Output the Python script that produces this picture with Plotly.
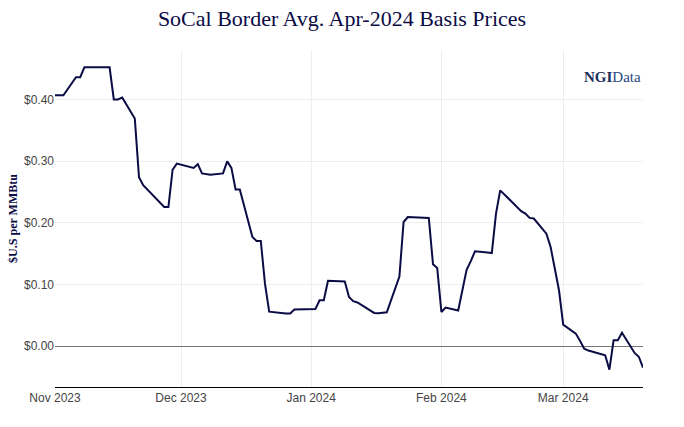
import plotly.graph_objects as go

# SoCal Border basis, trading days only
dates = [
    "2023-11-01", "2023-11-02", "2023-11-03", "2023-11-06", "2023-11-07",
    "2023-11-08", "2023-11-09", "2023-11-10", "2023-11-13", "2023-11-14",
    "2023-11-15", "2023-11-16", "2023-11-17", "2023-11-20", "2023-11-21",
    "2023-11-22", "2023-11-27", "2023-11-28", "2023-11-29", "2023-11-30",
    "2023-12-04", "2023-12-05", "2023-12-06", "2023-12-07", "2023-12-08",
    "2023-12-11", "2023-12-12", "2023-12-13", "2023-12-14", "2023-12-15",
    "2023-12-18", "2023-12-19", "2023-12-20", "2023-12-21", "2023-12-22",
    "2023-12-26", "2023-12-27", "2023-12-28", "2024-01-02", "2024-01-03",
    "2024-01-04", "2024-01-05", "2024-01-08", "2024-01-09", "2024-01-10",
    "2024-01-11", "2024-01-12", "2024-01-16", "2024-01-17", "2024-01-18",
    "2024-01-19", "2024-01-22", "2024-01-23", "2024-01-24", "2024-01-25",
    "2024-01-26", "2024-01-29", "2024-01-30", "2024-01-31", "2024-02-01",
    "2024-02-02", "2024-02-05", "2024-02-06", "2024-02-07", "2024-02-08",
    "2024-02-09", "2024-02-12", "2024-02-13", "2024-02-14", "2024-02-15",
    "2024-02-16", "2024-02-20", "2024-02-21", "2024-02-22", "2024-02-23",
    "2024-02-26", "2024-02-27", "2024-02-28", "2024-02-29", "2024-03-01",
    "2024-03-04", "2024-03-05", "2024-03-06", "2024-03-07", "2024-03-08",
    "2024-03-11", "2024-03-12", "2024-03-13", "2024-03-14", "2024-03-15",
    "2024-03-18", "2024-03-19", "2024-03-20",
]
basis = [
    0.4065, 0.4065, 0.4065, 0.436, 0.436,
    0.452, 0.452, 0.452, 0.452, 0.452,
    0.400, 0.400, 0.403, 0.369, 0.274,
    0.261, 0.2256, 0.2256, 0.286, 0.296,
    0.289, 0.295, 0.280, 0.279, 0.278,
    0.280, 0.2996, 0.289, 0.254, 0.254,
    0.177, 0.1706, 0.1706, 0.101, 0.056,
    0.053, 0.053, 0.0594, 0.0605, 0.0745,
    0.0745, 0.106, 0.1055, 0.105, 0.080,
    0.073, 0.071, 0.054, 0.0535, 0.054,
    0.055, 0.113, 0.2013, 0.2094, 0.209,
    0.209, 0.208, 0.1328, 0.127, 0.0556,
    0.0626, 0.058, 0.090, 0.124, 0.138,
    0.1538, 0.152, 0.151, 0.215, 0.2526,
    0.246, 0.219, 0.215, 0.208, 0.207,
    0.1825, 0.161, 0.128, 0.0907, 0.035,
    0.0205, 0.009, -0.004, -0.007, -0.009,
    -0.0146, -0.038, 0.0097, 0.0097, 0.022,
    -0.0108, -0.017, -0.0345,
]

fig = go.Figure()
fig.add_trace(go.Scatter(
    x=dates,
    y=basis,
    mode="lines",
    line=dict(color="#0b0b45", width=2),
    showlegend=False,
))

fig.update_layout(
    width=684,
    height=427,
    margin=dict(l=55, r=41, t=50, b=40),
    paper_bgcolor="white",
    plot_bgcolor="white",
    title=dict(
        text="SoCal Border Avg. Apr-2024 Basis Prices",
        x=0.5, xanchor="center", y=0.958, yanchor="middle",
        font=dict(family="Liberation Serif", size=22, color="#0b0b45"),
    ),
    xaxis=dict(
        range=["2023-11-01", "2024-03-20"],
        tickformat="%b %Y",
        dtick="M1",
        showgrid=True,
        gridcolor="#eeeeee",
        showline=True,
        linecolor="black",
        linewidth=1,
        ticks="",
        tickfont=dict(family="Liberation Sans", size=12, color="#444"),
    ),
    yaxis=dict(
        range=[-0.066, 0.48],
        dtick=0.1,
        tickprefix="$",
        tickformat=".2f",
        showgrid=True,
        gridcolor="#eeeeee",
        zeroline=True,
        zerolinecolor="#777777",
        zerolinewidth=1,
        automargin=False,
        tickfont=dict(family="Liberation Sans", size=12, color="#444"),
        title=dict(
            text="<b>$U.S per MMBtu</b>",
            font=dict(family="Liberation Serif", size=12, color="#0b0b45"),
            standoff=3,
        ),
    ),
    annotations=[dict(
        text="<b>NGI</b><span style='color:#2b4a80'>Data</span>",
        xref="paper", yref="paper",
        x=1.0, y=0.92, xanchor="right", yanchor="middle",
        showarrow=False,
        font=dict(family="Liberation Serif", size=15, color="#1a2e5a"),
    )],
)

# page body has an 8px default margin; drop it so the figure sits at 0,0
fig.write_html(
    "out.html",
    config={"displayModeBar": False},
    post_script="document.body.style.margin='0';",
)
